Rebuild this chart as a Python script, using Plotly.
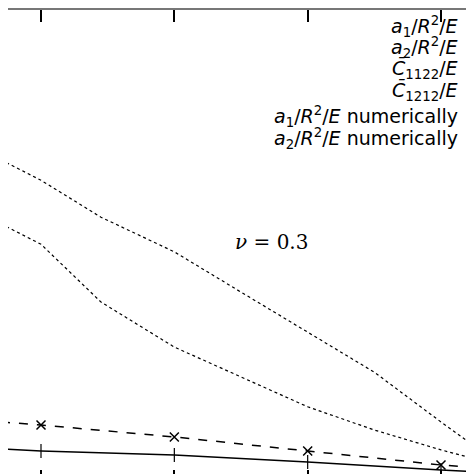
import plotly.graph_objects as go

x_curve = [0.7, 1, 1.45, 2, 2.5, 3, 3.5, 4, 4.26]
c1122 = [6.67, 6.24, 5.46, 4.73, 3.88, 3.04, 2.19, 1.14, 0.61]
c1212 = [5.32, 4.89, 3.67, 2.72, 2.09, 1.46, 0.97, 0.55, 0.36]
x_a = [0.7, 1, 2, 3, 4, 4.32]
a1 = [0.57, 0.527, 0.443, 0.295, 0.127, 0.08]
a2 = [1.14, 1.076, 0.823, 0.527, 0.232, 0.17]
x_num = [1, 2, 3, 4]
a1_num = [0.527, 0.443, 0.295, 0.127]
a2_num = [1.076, 0.823, 0.527, 0.232]

labels = [
    "<i>a</i><sub>1</sub>/<i>R</i><sup>2</sup>/<i>E</i>",
    "<i>a</i><sub>2</sub>/<i>R</i><sup>2</sup>/<i>E</i>",
    "<i>C̄</i><sub>1122</sub>/<i>E</i>",
    "<i>C̄</i><sub>1212</sub>/<i>E</i>",
    "<i>a</i><sub>1</sub>/<i>R</i><sup>2</sup>/<i>E</i> numerically",
    "<i>a</i><sub>2</sub>/<i>R</i><sup>2</sup>/<i>E</i> numerically",
]

fig = go.Figure()
fig.add_trace(go.Scatter(x=x_a, y=a1, mode="lines", line=dict(color="black", width=1.5)))
fig.add_trace(go.Scatter(x=x_a, y=a2, mode="lines", line=dict(color="black", width=1.5, dash="dash")))
fig.add_trace(go.Scatter(x=x_curve, y=c1122, mode="lines", line=dict(color="black", width=1.2, dash="dot")))
fig.add_trace(go.Scatter(x=x_curve, y=c1212, mode="lines", line=dict(color="black", width=1.2, dash="3px,3px")))
fig.add_trace(go.Scatter(x=x_num, y=a1_num, mode="markers", marker=dict(symbol="line-ns", size=10, line=dict(color="black", width=1.2))))
fig.add_trace(go.Scatter(x=x_num, y=a2_num, mode="markers", marker=dict(symbol="x-thin", size=9, line=dict(color="black", width=1.5))))

ys = [0.966, 0.921, 0.875, 0.828, 0.775, 0.727]
for lab, yy in zip(labels, ys):
    fig.add_annotation(text=lab, x=452/474, y=yy, xref="paper", yref="paper", xanchor="right",
                       yanchor="middle", showarrow=False,
                       font=dict(family="DejaVu Sans", size=19, color="black"))
fig.add_annotation(text="<i>ν</i> = 0.3", x=2.725, y=4.94, showarrow=False,
                   font=dict(family="DejaVu Serif", size=20, color="black"))

fig.update_layout(
    width=474, height=474, margin=dict(l=0, r=0, t=2, b=0),
    paper_bgcolor="white", plot_bgcolor="white", showlegend=False,
    xaxis=dict(range=[0.7525, 4.3075], tickvals=x_num, ticks="inside", ticklen=12, tickwidth=2,
               tickcolor="black", showticklabels=False, showgrid=False, zeroline=False,
               showline=True, linecolor="#777", linewidth=3, mirror="ticks"),
    yaxis=dict(range=[-0.127, 9.833], showticklabels=False, showgrid=False, zeroline=False, ticks=""),
)
fig.write_html("out.html")
